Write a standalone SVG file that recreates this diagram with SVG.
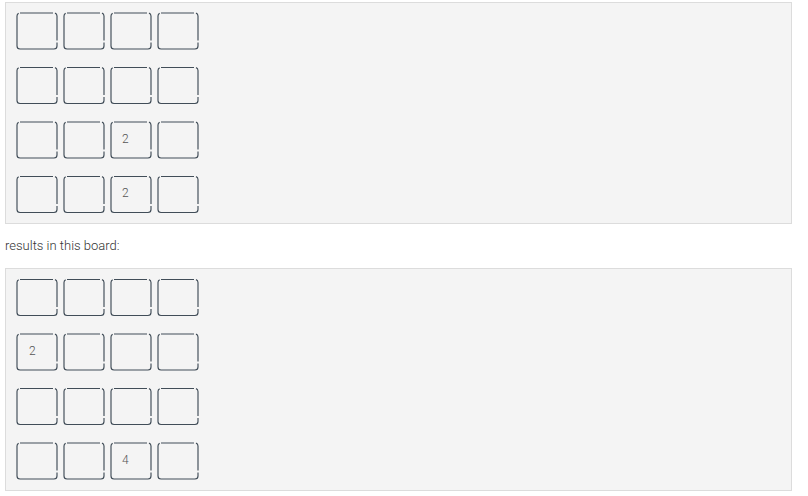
<svg xmlns="http://www.w3.org/2000/svg" width="808" height="496" viewBox="0 0 808 496">
<defs>
<style>
.panel{fill:#f4f4f4;stroke:#dcdcdc;stroke-width:1}
.tile{fill:none;stroke:#414d58;stroke-width:1.15;stroke-dasharray:33 2 28 2 80 2 12}
.num{font-family:Roboto,"Liberation Sans",sans-serif;font-weight:300;font-size:12px;fill:#555}
.cap{font-family:Roboto,"Liberation Sans",sans-serif;font-weight:300;font-size:13px;fill:#333}
</style>
<rect id="t" class="tile" x="0" y="0" width="40" height="36" rx="3"/>
</defs>
<g id="board1">
<rect class="panel" x="5.5" y="2.5" width="786" height="221"/>
<g id="b1r1"><use href="#t" x="17" y="13"/><use href="#t" x="64" y="13"/><use href="#t" x="111" y="13"/><use href="#t" x="158" y="13"/></g>
<g id="b1r2"><use href="#t" x="17" y="67.5"/><use href="#t" x="64" y="67.5"/><use href="#t" x="111" y="67.5"/><use href="#t" x="158" y="67.5"/></g>
<g id="b1r3"><use href="#t" x="17" y="122"/><use href="#t" x="64" y="122"/><use href="#t" x="111" y="122"/><use href="#t" x="158" y="122"/><text class="num" x="122" y="142.5">2</text></g>
<g id="b1r4"><use href="#t" x="17" y="176.5"/><use href="#t" x="64" y="176.5"/><use href="#t" x="111" y="176.5"/><use href="#t" x="158" y="176.5"/><text class="num" x="122" y="197">2</text></g>
</g>
<text class="cap" x="5" y="250">results in this board:</text>
<g id="board2">
<rect class="panel" x="5.5" y="268.5" width="786" height="222"/>
<g id="b2r1"><use href="#t" x="17" y="279.5"/><use href="#t" x="64" y="279.5"/><use href="#t" x="111" y="279.5"/><use href="#t" x="158" y="279.5"/></g>
<g id="b2r2"><use href="#t" x="17" y="334"/><use href="#t" x="64" y="334"/><use href="#t" x="111" y="334"/><use href="#t" x="158" y="334"/><text class="num" x="29" y="354.5">2</text></g>
<g id="b2r3"><use href="#t" x="17" y="388.5"/><use href="#t" x="64" y="388.5"/><use href="#t" x="111" y="388.5"/><use href="#t" x="158" y="388.5"/></g>
<g id="b2r4"><use href="#t" x="17" y="443"/><use href="#t" x="64" y="443"/><use href="#t" x="111" y="443"/><use href="#t" x="158" y="443"/><text class="num" x="122" y="463.5">4</text></g>
</g>
</svg>
